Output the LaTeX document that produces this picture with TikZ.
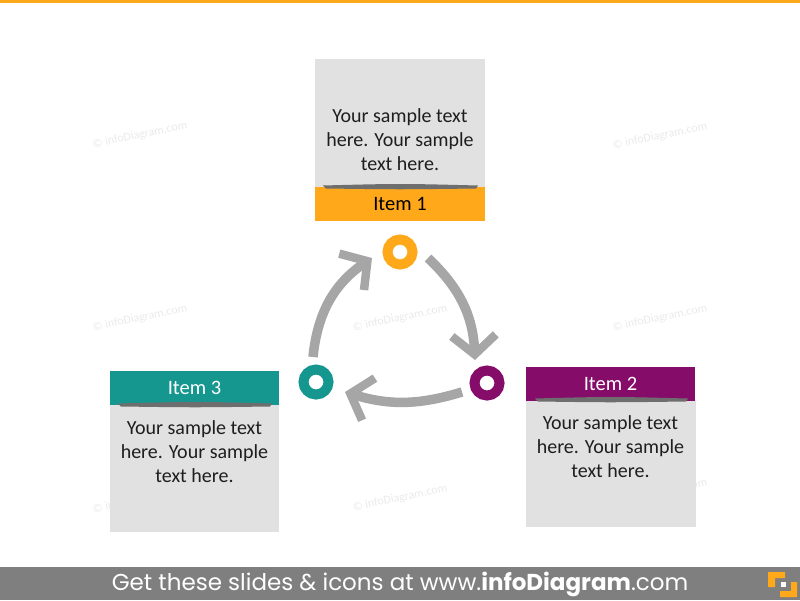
\documentclass[tikz,border=0pt]{standalone}
\usepackage{fontspec}
\setmainfont{Carlito}
\newfontfamily\footfont{Poppins}
\usetikzlibrary{arrows.meta}
\definecolor{orangeA}{HTML}{FFA91A}
\definecolor{purpleA}{HTML}{860C6A}
\definecolor{tealA}{HTML}{15978F}
\definecolor{boxgray}{HTML}{E1E1E1}
\definecolor{arrowgray}{HTML}{A6A6A6}
\definecolor{brushgray}{HTML}{6E6E6E}
\definecolor{footgray}{HTML}{7F7F7F}
\definecolor{wmgray}{HTML}{EAEAEA}
\definecolor{textdark}{HTML}{1E1E1E}
\begin{document}
\begin{tikzpicture}[x=1pt,y=-1pt,
  graybox/.style={rectangle, fill=boxgray, inner sep=0, minimum width=170pt, minimum height=128pt},
  titlebar/.style={rectangle, inner sep=0, minimum width=170pt, minimum height=34pt, font=\fontsize{20.5}{22}\selectfont},
  bodytext/.style={align=center, text=textdark, font=\fontsize{20}{24}\selectfont, inner sep=0},
  ring/.style={circle, inner sep=0, minimum size=25pt, line width=10pt},
  arr/.style={draw=arrowgray, line width=9.5pt, -{Straight Barb[length=19pt,width=44pt,line width=8.5pt]}},
  brush/.style={fill=brushgray},
  wm/.style={text=wmgray, font=\fontsize{12}{13}\selectfont, rotate=12}]
\useasboundingbox (0,0) rectangle (800,600);
\fill[orangeA] (0,0) rectangle (800,3);
% watermarks
\node[wm] (w1) at (140,135) {© infoDiagram.com};
\node[wm] (w2) at (660,136) {© infoDiagram.com};
\node[wm] (w3) at (140,318) {© infoDiagram.com};
\node[wm] (w4) at (400,318) {© infoDiagram.com};
\node[wm] (w5) at (660,318) {© infoDiagram.com};
\node[wm] (w6) at (140,500) {© infoDiagram.com};
\node[wm] (w7) at (400,498) {© infoDiagram.com};
\node[wm] (w8) at (660,492) {© infoDiagram.com};
% item 1
\node[graybox] (b1) at (400,123) {};
\node[titlebar, fill=orangeA, text=black] (t1) at (400,203.5) {Item 1};
\fill[brush] (323,185.5) .. controls (400,183.5) .. (478,185.5) -- (476,188.5) .. controls (400,189.5) .. (326,188.5) -- cycle;
\node[bodytext] (x1) at (400,140) {Your sample text\\here. Your sample\\text here.};
% item 2
\node[graybox, minimum height=127pt] (b2) at (610.5,463.5) {};
\node[titlebar, minimum width=169pt, fill=purpleA, text=white] (t2) at (610.5,383.5) {Item 2};
\fill[brush] (535,398.5) .. controls (610,396.5) .. (688,398.5) -- (686,401.5) .. controls (610,402.5) .. (538,401.5) -- cycle;
\node[bodytext] (x2) at (610.5,447) {Your sample text\\here. Your sample\\text here.};
% item 3
\node[graybox, minimum width=169pt, minimum height=127pt] (b3) at (194.5,468.5) {};
\node[titlebar, minimum width=169pt, fill=tealA, text=white] (t3) at (194.5,388) {Item 3};
\fill[brush] (118,403.5) .. controls (195,401.5) .. (272,403.5) -- (270,406.5) .. controls (195,407.5) .. (121,406.5) -- cycle;
\node[bodytext] (x3) at (194.5,452) {Your sample text\\here. Your sample\\text here.};
% rings
\node[ring, draw=orangeA] (c1) at (400,252) {};
\node[ring, draw=purpleA] (c2) at (487,383) {};
\node[ring, draw=tealA] (c3) at (316,382) {};
% arrows
\draw[arr] ([shift={(-3,-25)}]c3.center) to[bend left=25] ([shift={(-28,6)}]c1.center);
\draw[arr] ([shift={(28,6)}]c1.center) to[bend left=22] ([shift={(-12,-23)}]c2.center);
\draw[arr] ([shift={(-25,9)}]c2.center) to[bend left=17] ([shift={(29,10)}]c3.center);
% footer
\fill[footgray] (0,567) rectangle (800,600);
\node[text=white, font=\footfont\fontsize{23}{26}\selectfont, inner sep=0] (ft) at (400,584) {Get these slides \& icons at www.\textbf{infoDiagram}.com};
\fill[orangeA] (768,572) -- (785,572) -- (785,578) -- (775,578) -- (775,587) -- (768,587) -- cycle;
\fill[white] (781,582) rectangle (786,587);
\fill[orangeA] (797,597) -- (780,597) -- (780,591) -- (791,591) -- (791,582) -- (797,582) -- cycle;
\end{tikzpicture}
\end{document}
